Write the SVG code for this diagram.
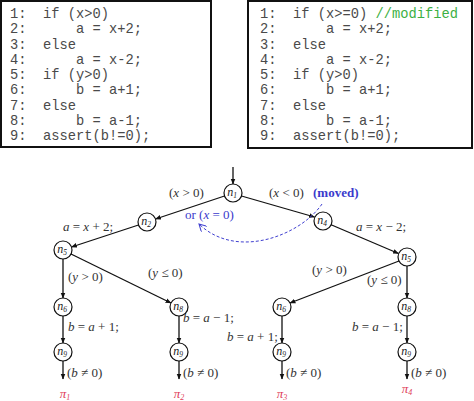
<svg xmlns="http://www.w3.org/2000/svg" width="474" height="401" viewBox="0 0 474 401">
<defs>
<marker id="ah" viewBox="0 0 10 10" refX="9" refY="5" markerWidth="6" markerHeight="6" orient="auto" markerUnits="userSpaceOnUse">
<path d="M0,1 L10,5 L0,9 z" fill="#111"/>
</marker>
<marker id="oh" viewBox="0 0 10 10" refX="9" refY="5" markerWidth="8" markerHeight="8" orient="auto" markerUnits="userSpaceOnUse">
<path d="M0,0 L9,5 L0,10" fill="none" stroke="#4040d0" stroke-width="1.3"/>
</marker>
</defs>
<style>
.box{fill:#fff;stroke:#111;stroke-width:2}
.code{font-family:"Liberation Mono",monospace;font-size:13.75px;fill:#4a4a4a;white-space:pre}
.cm{fill:#3cb043}
.nd circle{fill:#fff;stroke:#111;stroke-width:1.2}
.nd text{font-family:"Liberation Serif",serif;font-style:italic;font-size:12px;fill:#222;text-anchor:middle}
.e{stroke:#111;stroke-width:1.3;fill:none;marker-end:url(#ah)}
.lb{font-family:"Liberation Serif",serif;font-size:13px;fill:#333;white-space:pre}
.blue{fill:#3a3acc}
.pi{font-family:"Liberation Serif",serif;font-style:italic;font-size:13px;fill:#e0405a;text-anchor:middle}
</style>
<g id="code-left">
<rect class="box" x="1" y="1" width="210" height="146"/>
<text class="code" x="10" y="18">1:  if (x&gt;0)</text>
<text class="code" x="10" y="33.25">2:      a = x+2;</text>
<text class="code" x="10" y="48.5">3:  else</text>
<text class="code" x="10" y="63.75">4:      a = x-2;</text>
<text class="code" x="10" y="79">5:  if (y&gt;0)</text>
<text class="code" x="10" y="94.25">6:      b = a+1;</text>
<text class="code" x="10" y="109.5">7:  else</text>
<text class="code" x="10" y="124.75">8:      b = a-1;</text>
<text class="code" x="10" y="140">9:  assert(b!=0);</text>
</g>
<g id="code-right">
<rect class="box" x="248" y="1" width="224" height="147"/>
<text class="code" x="260" y="18">1:  if (x&gt;=0) <tspan class="cm">//modified</tspan></text>
<text class="code" x="260" y="33.25">2:      a = x+2;</text>
<text class="code" x="260" y="48.5">3:  else</text>
<text class="code" x="260" y="63.75">4:      a = x-2;</text>
<text class="code" x="260" y="79">5:  if (y&gt;0)</text>
<text class="code" x="260" y="94.25">6:      b = a+1;</text>
<text class="code" x="260" y="109.5">7:  else</text>
<text class="code" x="260" y="124.75">8:      b = a-1;</text>
<text class="code" x="260" y="140">9:  assert(b!=0);</text>
</g>
<g id="connectors">
<line class="e" x1="233" y1="167" x2="233" y2="184"/>
<line class="e" x1="224.5" y1="196" x2="155.5" y2="219"/>
<line class="e" x1="241.5" y1="196" x2="314.5" y2="217"/>
<line class="e" x1="138.5" y1="225" x2="71.5" y2="247"/>
<line class="e" x1="330.5" y1="224.5" x2="398.5" y2="253.5"/>
<line class="e" x1="63" y1="259" x2="63" y2="298"/>
<line class="e" x1="71" y1="254" x2="171" y2="303"/>
<line class="e" x1="399" y1="261" x2="290" y2="303"/>
<line class="e" x1="407" y1="266" x2="407" y2="298"/>
<line class="e" x1="63" y1="316" x2="63" y2="343"/>
<line class="e" x1="179" y1="316" x2="179" y2="343"/>
<line class="e" x1="282" y1="316" x2="282" y2="343"/>
<line class="e" x1="407" y1="316" x2="407" y2="343"/>
<line class="e" x1="63" y1="361" x2="63" y2="379"/>
<line class="e" x1="179" y1="361" x2="179" y2="379"/>
<line class="e" x1="282" y1="361" x2="282" y2="379"/>
<line class="e" x1="407" y1="361" x2="407" y2="379"/>
<path d="M322,204 C300,236 236,260 199,224" fill="none" stroke="#4040d0" stroke-width="1" stroke-dasharray="3,2" marker-end="url(#oh)"/>
</g>
<g id="labels">
<text class="lb" x="169" y="197">(<tspan font-style="italic">x</tspan> &gt; 0)</text>
<text class="lb" x="269" y="197">(<tspan font-style="italic">x</tspan> &lt; 0)</text>
<text class="lb blue" x="313" y="197" font-weight="bold">(moved)</text>
<text class="lb blue" x="185" y="219">or (<tspan font-style="italic">x</tspan> = 0)</text>
<text class="lb" x="63" y="231"><tspan font-style="italic">a</tspan> = <tspan font-style="italic">x</tspan> + 2;</text>
<text class="lb" x="356" y="231"><tspan font-style="italic">a</tspan> = <tspan font-style="italic">x</tspan> − 2;</text>
<text class="lb" x="68" y="281">(<tspan font-style="italic">y</tspan> &gt; 0)</text>
<text class="lb" x="148" y="277">(<tspan font-style="italic">y</tspan> ≤ 0)</text>
<text class="lb" x="312" y="274">(<tspan font-style="italic">y</tspan> &gt; 0)</text>
<text class="lb" x="367" y="284">(<tspan font-style="italic">y</tspan> ≤ 0)</text>
<text class="lb" x="68" y="331"><tspan font-style="italic">b</tspan> = <tspan font-style="italic">a</tspan> + 1;</text>
<text class="lb" x="183" y="322"><tspan font-style="italic">b</tspan> = <tspan font-style="italic">a</tspan> − 1;</text>
<text class="lb" x="227" y="341"><tspan font-style="italic">b</tspan> = <tspan font-style="italic">a</tspan> + 1;</text>
<text class="lb" x="352" y="331"><tspan font-style="italic">b</tspan> = <tspan font-style="italic">a</tspan> − 1;</text>
<text class="lb" x="67" y="377">(<tspan font-style="italic">b</tspan> ≠ 0)</text>
<text class="lb" x="183" y="377">(<tspan font-style="italic">b</tspan> ≠ 0)</text>
<text class="lb" x="286" y="377">(<tspan font-style="italic">b</tspan> ≠ 0)</text>
<text class="lb" x="411" y="377">(<tspan font-style="italic">b</tspan> ≠ 0)</text>
<text class="pi" x="65" y="398">π<tspan font-size="8" dy="2">1</tspan></text>
<text class="pi" x="179" y="398">π<tspan font-size="8" dy="2">2</tspan></text>
<text class="pi" x="282" y="398">π<tspan font-size="8" dy="2">3</tspan></text>
<text class="pi" x="407" y="393">π<tspan font-size="8" dy="2">4</tspan></text>
</g>
<g id="n1" class="nd"><circle cx="233" cy="193" r="9"/><text x="232" y="196">n<tspan font-size="7.5" dy="2">1</tspan></text></g>
<g id="n2" class="nd"><circle cx="147" cy="222" r="9"/><text x="146" y="225">n<tspan font-size="7.5" dy="2">2</tspan></text></g>
<g id="n4" class="nd"><circle cx="323" cy="221" r="9"/><text x="322" y="224">n<tspan font-size="7.5" dy="2">4</tspan></text></g>
<g id="n5a" class="nd"><circle cx="63" cy="250" r="9"/><text x="62" y="253">n<tspan font-size="7.5" dy="2">5</tspan></text></g>
<g id="n5b" class="nd"><circle cx="407" cy="257" r="9"/><text x="406" y="260">n<tspan font-size="7.5" dy="2">5</tspan></text></g>
<g id="n6a" class="nd"><circle cx="63" cy="307" r="9"/><text x="62" y="310">n<tspan font-size="7.5" dy="2">6</tspan></text></g>
<g id="n8a" class="nd"><circle cx="179" cy="307" r="9"/><text x="178" y="310">n<tspan font-size="7.5" dy="2">8</tspan></text></g>
<g id="n6b" class="nd"><circle cx="282" cy="307" r="9"/><text x="281" y="310">n<tspan font-size="7.5" dy="2">6</tspan></text></g>
<g id="n8b" class="nd"><circle cx="407" cy="307" r="9"/><text x="406" y="310">n<tspan font-size="7.5" dy="2">8</tspan></text></g>
<g id="n9a" class="nd"><circle cx="63" cy="352" r="9"/><text x="62" y="355">n<tspan font-size="7.5" dy="2">9</tspan></text></g>
<g id="n9b" class="nd"><circle cx="179" cy="352" r="9"/><text x="178" y="355">n<tspan font-size="7.5" dy="2">9</tspan></text></g>
<g id="n9c" class="nd"><circle cx="282" cy="352" r="9"/><text x="281" y="355">n<tspan font-size="7.5" dy="2">9</tspan></text></g>
<g id="n9d" class="nd"><circle cx="407" cy="352" r="9"/><text x="406" y="355">n<tspan font-size="7.5" dy="2">9</tspan></text></g>
</svg>
